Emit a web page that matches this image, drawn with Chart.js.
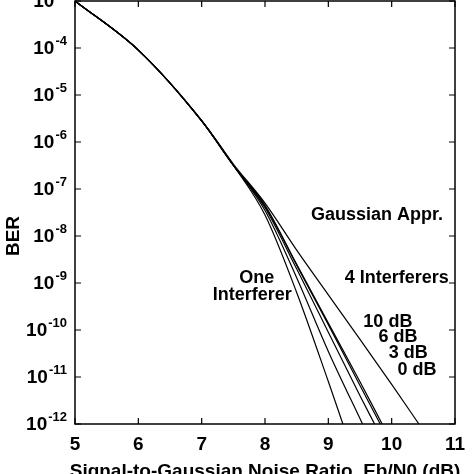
<!DOCTYPE html>
<html><head><meta charset="utf-8">
<script src="https://cdn.jsdelivr.net/npm/chart.js@4"></script>
<style>body{margin:0;background:#fff}#wrap{width:474px;height:474px}</style>
</head><body><div id="wrap"><canvas id="myChart"></canvas></div>
<script>
// curves: Eb/N0 (dB) and BER
var xOne = [5, 6, 7, 7.5, 8, 8.5, 9, 9.23];
var yOne = [1e-3, 9e-5, 2.8e-6, 3.2e-7, 2.8e-8, 6.3e-10, 8e-12, 1e-12];
var x0dB = [5, 6, 7, 7.5, 8, 8.5, 9, 9.54];
var y0dB = [1e-3, 9e-5, 2.8e-6, 3.2e-7, 3.5e-8, 1.3e-9, 3.5e-11, 1e-12];
var x3dB = [5, 6, 7, 7.5, 8, 8.5, 9, 9.5, 9.73];
var y3dB = [1e-3, 9e-5, 2.8e-6, 3.2e-7, 4e-8, 2e-9, 9e-11, 4e-12, 1e-12];
var x6dB = [5, 6, 7, 7.5, 8, 8.5, 9, 9.5, 9.82];
var y6dB = [1e-3, 9e-5, 2.8e-6, 3.2e-7, 4.3e-8, 2.4e-9, 1.3e-10, 6.6e-12, 1e-12];
var x10dB = [5, 6, 7, 7.5, 8, 8.5, 9, 9.5, 9.85];
var y10dB = [1e-3, 9e-5, 2.8e-6, 3.2e-7, 4.5e-8, 2.5e-9, 1.4e-10, 7.9e-12, 1e-12];
var xGauss = [5, 6, 7, 7.5, 8, 8.5, 9, 9.5, 10, 10.43];
var yGauss = [1e-3, 9e-5, 2.9e-6, 3.4e-7, 5e-8, 5e-9, 5.6e-10, 6.3e-11, 7e-12, 1e-12];
var xTicks = [5, 6, 7, 8, 9, 10, 11];
var yExps = [-3, -4, -5, -6, -7, -8, -9, -10, -11, -12];

function pts(xs, ys) { return xs.map(function (x, i) { return { x: x, y: ys[i] }; }); }
function line(xs, ys) {
  return { data: pts(xs, ys), borderColor: '#000', borderWidth: 1.2, pointRadius: 0,
    cubicInterpolationMode: 'monotone', fill: false };
}

var FONT = 'bold 19px "Liberation Sans", Arial, sans-serif';

var deco = {
  id: 'deco',
  afterDraw: function (c) {
    var ctx = c.ctx, xs = c.scales.x, ys = c.scales.y, a = c.chartArea;
    ctx.save();
    ctx.strokeStyle = '#000'; ctx.lineWidth = 1.5;
    ctx.strokeRect(a.left, a.top, a.right - a.left, a.bottom - a.top);
    ctx.lineWidth = 1.2;
    xTicks.forEach(function (v) {
      var p = xs.getPixelForValue(v);
      ctx.beginPath(); ctx.moveTo(p, a.bottom); ctx.lineTo(p, a.bottom - 6);
      ctx.moveTo(p, a.top); ctx.lineTo(p, a.top + 6); ctx.stroke();
    });
    yExps.forEach(function (e) {
      var p = ys.getPixelForValue(Math.pow(10, e));
      ctx.beginPath(); ctx.moveTo(a.left, p); ctx.lineTo(a.left + 6, p);
      ctx.moveTo(a.right, p); ctx.lineTo(a.right - 6, p); ctx.stroke();
    });
    ctx.fillStyle = '#000';
    ctx.font = FONT;
    ctx.textAlign = 'center'; ctx.textBaseline = 'top';
    xTicks.forEach(function (v) { ctx.fillText(String(v), xs.getPixelForValue(v), a.bottom + 11); });
    yExps.forEach(function (e) {
      var p = ys.getPixelForValue(Math.pow(10, e));
      ctx.textAlign = 'right'; ctx.textBaseline = 'middle';
      var expTxt = String(e);
      ctx.font = 'bold 13px "Liberation Sans", Arial, sans-serif';
      var w = ctx.measureText(expTxt).width;
      ctx.fillText(expTxt, a.left - 8, p - 7);
      ctx.font = FONT;
      ctx.fillText('10', a.left - 9 - w, p + 1);
    });
    ctx.save();
    ctx.translate(14, ys.getPixelForValue(1e-8));
    ctx.rotate(-Math.PI / 2);
    ctx.textAlign = 'center'; ctx.textBaseline = 'middle';
    ctx.fillText('BER', 0, 0);
    ctx.restore();
    ctx.textAlign = 'center'; ctx.textBaseline = 'top';
    ctx.fillText('Signal-to-Gaussian Noise Ratio, Eb/N0 (dB)', (a.left + a.right) / 2, a.bottom + 38);
    function lab(t, x, e) {
      ctx.textAlign = 'center'; ctx.textBaseline = 'middle';
      ctx.fillText(t, xs.getPixelForValue(x), ys.getPixelForValue(Math.pow(10, e)));
    }
    ctx.font = 'bold 18px "Liberation Sans", Arial, sans-serif';
    lab('Gaussian Appr.', 9.77, -7.55);
    lab('4 Interferers', 10.08, -8.9);
    lab('One', 7.87, -8.9);
    lab('Interferer', 7.8, -9.26);
    lab('10 dB', 9.94, -9.83);
    lab('6 dB', 10.1, -10.15);
    lab('3 dB', 10.26, -10.5);
    lab('0 dB', 10.4, -10.85);
    ctx.restore();
  }
};

var ctx = document.getElementById('myChart').getContext('2d');
var myChart = new Chart(ctx, {
  type: 'line',
  data: { datasets: [line(xOne, yOne), line(x0dB, y0dB), line(x3dB, y3dB), line(x6dB, y6dB), line(x10dB, y10dB), line(xGauss, yGauss)] },
  options: {
    responsive: true, maintainAspectRatio: false, animation: false,
    layout: { padding: { top: 1, right: 19 } },
    plugins: { legend: { display: false }, tooltip: { enabled: false } },
    scales: {
      x: { type: 'linear', min: 5, max: 11, grid: { display: false }, border: { display: false },
        ticks: { display: false }, afterFit: function (s) { s.height = 50; } },
      y: { type: 'logarithmic', min: 1e-12, max: 1e-3, grid: { display: false }, border: { display: false },
        ticks: { display: false }, afterFit: function (s) { s.width = 75; } }
    }
  },
  plugins: [deco]
});
</script></body></html>
